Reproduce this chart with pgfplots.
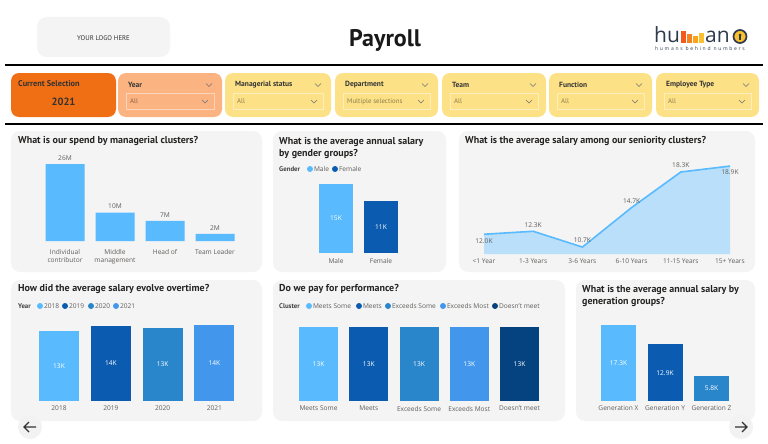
\documentclass[border=0pt]{standalone}
\usepackage{fontspec}
\setmainfont{Open Sans}
\newfontfamily\din{PT Sans}
\usepackage{pgfplots}
\pgfplotsset{compat=1.18}
\definecolor{panel}{HTML}{F4F4F4}
\definecolor{oDark}{HTML}{F06E14}
\definecolor{oLight}{HTML}{FBB382}
\definecolor{fyel}{HTML}{FDE187}
\definecolor{lblue}{HTML}{59BAFE}
\definecolor{bdark}{HTML}{0B5CB0}
\definecolor{bmid}{HTML}{2A86CB}
\definecolor{bbright}{HTML}{4297EC}
\definecolor{bnavy}{HTML}{054380}
\definecolor{areafill}{HTML}{B9DFFA}
\definecolor{ttl}{HTML}{252423}
\definecolor{lblgray}{HTML}{605E5C}
\definecolor{logodark}{HTML}{2F3B4C}
\definecolor{lg1}{HTML}{F05A1E}
\definecolor{lg2}{HTML}{F58220}
\definecolor{lg3}{HTML}{F9A41A}
\definecolor{lg4}{HTML}{FBC02D}
\newcommand{\lbl}{\fontsize{6.6}{7.8}\selectfont}
\newcommand{\ttlf}{\din\bfseries\fontsize{10}{11}\selectfont}
\newcommand{\fl}{\din\bfseries\fontsize{7.5}{8}\selectfont}
\newcommand{\fv}{\din\fontsize{6.8}{8}\selectfont}
\newcommand{\chev}[2]{\draw[black!55, line width=0.55pt] ({#1-3},{#2-1.5}) -- (#1,{#2+1.5}) -- ({#1+3},{#2-1.5});}
\newcommand{\filt}[5]{%
 \fill[#3, rounded corners=8pt] (#1,73) rectangle (#2,117);
 \node[anchor=west, inner sep=0, font=\fl, text=black!80] at ({#1+10},85) {#4};
 \chev{#2-13}{85}
 \draw[white!45!#3, line width=0.8pt] ({#1+8},93) rectangle ({#2-8},109);
 \node[anchor=west, inner sep=0, font=\fv, text=black!45!#3] at ({#1+12},101.5) {#5};
 \chev{#2-17}{101.5}
}
\pgfplotsset{
 base/.style={scale only axis, enlargelimits=false, clip=false,
   /pgf/number format/assume math mode=true,
   axis line style={draw=none}, ytick=\empty, xtick style={draw=none},
   major tick length=0pt,
   xticklabel style={font=\lbl, text=lblgray, align=center, yshift=-1.5pt},
   anchor=south west},
 bars/.style={base, ybar, ymin=0},
 mid/.style={visualization depends on=y \as \rawy,
   nodes near coords={\pgfmathprintnumber[fixed,precision=0]{\pgfplotspointmeta}K},
   every node near coord/.append style={font=\lbl, text=white, anchor=center,
     shift={(axis direction cs:0,-\rawy/2)}}},
}
\begin{document}
\begin{tikzpicture}
\path[use as bounding box, fill=white] (0,0) rectangle (768pt,-444pt);
\begin{scope}[x=1pt,y=-1pt]
% header
\fill[panel, rounded corners=10pt] (37,17) rectangle (170,57);
\node[font=\din\fontsize{6.8}{8}\selectfont, text=black!80] at (103.5,38) {YOUR LOGO HERE};
\node[font=\din\bfseries\fontsize{24}{28}\selectfont, text=black!90] at (385,40) {Payroll};
% logo
\node[anchor=base west, inner sep=0, font=\fontsize{21}{22}\selectfont, text=logodark] at (654,43) {hu};
\fill[lg1] (681,31) rectangle (686,43);
\fill[lg2] (687,34) rectangle (692,43);
\fill[lg3] (693,36) rectangle (698,43);
\fill[lg4] (699,33) rectangle (704,43);
\node[anchor=base west, inner sep=0, font=\fontsize{21}{22}\selectfont, text=logodark] at (705,43) {an};
\fill[lg4] (740,36.5) circle (6.5);
\draw[logodark, line width=1.7pt] (740,36.5) circle (6.5);
\fill[logodark] (740,35) circle (1.5);
\fill[logodark] (739.2,35.5) rectangle (740.8,40);
\node[anchor=base west, inner sep=0, font=\fontsize{5}{6}\selectfont\addfontfeature{LetterSpace=34}, text=logodark] at (655,51) {humans behind numbers};
\draw[black, line width=2.2pt] (5,65) -- (763,65);
\draw[black, line width=2.2pt] (5,124) -- (763,124);
% filters
\fill[oDark, rounded corners=8pt] (11,73) rectangle (116,117);
\node[anchor=west, inner sep=0, font=\din\bfseries\fontsize{8.3}{9}\selectfont, text=black!80] at (18,83.5) {Current Selection};
\node[font=\din\bfseries\fontsize{10.5}{12}\selectfont, text=black!80] at (63.5,102) {2021};
\filt{118}{222}{oLight}{Year}{All}
\filt{225}{331}{fyel}{Managerial status}{All}
\filt{335}{438}{fyel}{Department}{Multiple selections}
\filt{442}{546}{fyel}{Team}{All}
\filt{549}{652}{fyel}{Function}{All}
\filt{656}{759}{fyel}{Employee Type}{All}
% panels
\fill[panel, rounded corners=9pt] (11,131) rectangle (262,272);
\fill[panel, rounded corners=9pt] (273,131) rectangle (446,272);
\fill[panel, rounded corners=9pt] (459,131) rectangle (755,272);
\fill[panel, rounded corners=9pt] (11,280) rectangle (262,421);
\fill[panel, rounded corners=9pt] (273,280) rectangle (565,421);
\fill[panel, rounded corners=9pt] (576,280) rectangle (755,421);
% titles
\node[anchor=west, inner sep=0, font=\ttlf, text=ttl] at (18,141) {What is our spend by managerial clusters?};
\node[anchor=west, inner sep=0, font=\ttlf, text=ttl] at (279,142) {What is the average annual salary};
\node[anchor=west, inner sep=0, font=\ttlf, text=ttl] at (279,153.5) {by gender groups?};
\node[anchor=west, inner sep=0, font=\ttlf, text=ttl] at (465,141) {What is the average salary among our seniority clusters?};
\node[anchor=west, inner sep=0, font=\ttlf, text=ttl] at (18,289) {How did the average salary evolve overtime?};
\node[anchor=west, inner sep=0, font=\ttlf, text=ttl] at (279,289) {Do we pay for performance?};
\node[anchor=west, inner sep=0, font=\ttlf, text=ttl] at (582,290) {What is the average annual salary by};
\node[anchor=west, inner sep=0, font=\ttlf, text=ttl] at (582,301.5) {generation groups?};
% legends
\node[anchor=west, inner sep=0, font=\din\bfseries\fontsize{6.8}{8}\selectfont, text=black!75] at (279,169) {Gender};
\fill[lblue] (310,169) circle (3); \node[anchor=west, inner sep=0, font=\lbl, text=lblgray] at (313.8,169) {Male};
\fill[bdark] (335,169) circle (3); \node[anchor=west, inner sep=0, font=\lbl, text=lblgray] at (338.8,169) {Female};
\node[anchor=west, inner sep=0, font=\din\bfseries\fontsize{6.8}{8}\selectfont, text=black!75] at (18,306) {Year};
\fill[lblue] (40,306) circle (3); \node[anchor=west, inner sep=0, font=\lbl, text=lblgray] at (43.8,306) {2018};
\fill[bdark] (65,306) circle (3); \node[anchor=west, inner sep=0, font=\lbl, text=lblgray] at (68.8,306) {2019};
\fill[bmid] (91,306) circle (3); \node[anchor=west, inner sep=0, font=\lbl, text=lblgray] at (94.8,306) {2020};
\fill[bbright] (116,306) circle (3); \node[anchor=west, inner sep=0, font=\lbl, text=lblgray] at (119.8,306) {2021};
\node[anchor=west, inner sep=0, font=\din\bfseries\fontsize{6.8}{8}\selectfont, text=black!75] at (279,306) {Cluster};
\fill[lblue] (309,306) circle (3); \node[anchor=west, inner sep=0, font=\lbl, text=lblgray] at (312.8,306) {Meets Some};
\fill[bdark] (359,306) circle (3); \node[anchor=west, inner sep=0, font=\lbl, text=lblgray] at (362.8,306) {Meets};
\fill[bmid] (388,306) circle (3); \node[anchor=west, inner sep=0, font=\lbl, text=lblgray] at (391.8,306) {Exceeds Some};
\fill[bbright] (443,306) circle (3); \node[anchor=west, inner sep=0, font=\lbl, text=lblgray] at (446.8,306) {Exceeds Most};
\fill[bnavy] (495,306) circle (3); \node[anchor=west, inner sep=0, font=\lbl, text=lblgray] at (498.8,306) {Doesn't meet};
% nav arrows
\fill[black!5] (30,427) circle (12);
\draw[black!80, line width=1.2pt] (24,427) -- (36,427) (29,422) -- (24,427) -- (29,432);
\fill[black!5] (741,427) circle (12);
\draw[black!80, line width=1.2pt] (735,427) -- (747,427) (742,422) -- (747,427) -- (742,432);
\end{scope}

% Chart 1
\begin{axis}[bars, at={(40pt,-241pt)}, width=200pt, height=88.85pt,
  xmin=-0.5, xmax=3.5, ymax=30, bar width=39pt, xtick={0,1,2,3},
  xticklabels={{Individual\\contributor},{Middle\\management},{Head of},{Team Leader}},
  xticklabel style={yshift=-3.5pt},
  nodes near coords={\pgfmathprintnumber[fixed,precision=0]{\pgfplotspointmeta}M},
  every node near coord/.append style={font=\lbl, text=lblgray}]
\addplot[fill=lblue, draw=none] coordinates {(0,26) (1,9.6) (2,6.8) (3,2.4)};
\end{axis}

% Chart 2
\begin{axis}[bars, mid, at={(313.5pt,-253pt)}, width=90pt, height=92pt,
  xmin=-0.5, xmax=1.5, ymax=20, bar width=34pt, xtick={0,1},
  xticklabels={Male,Female}]
\addplot[fill=lblue, draw=none, bar shift=0pt] coordinates {(0,15.0)};
\addplot[fill=bdark, draw=none, bar shift=0pt] coordinates {(1,11.3)};
\end{axis}

% Chart 3
\begin{axis}[base, at={(484pt,-254pt)}, width=246pt, height=98.8pt,
  xmin=0, xmax=5, ymin=10, ymax=20, xtick={0,1,2,3,4,5},
  xticklabels={<1 Year,1-3 Years,3-6 Years,6-10 Years,11-15 Years,15+ Years}]
\addplot[fill=areafill, draw=none] coordinates {(0,10) (0,12.0) (1,12.3) (2,10.7) (3,14.7) (4,18.3) (5,18.9) (5,10)};
\addplot[lblue, line width=1.6pt, mark=none,
  nodes near coords={\pgfmathprintnumber[fixed,fixed zerofill,precision=1]{\pgfplotspointmeta}K},
  visualization depends on={value \thisrow{anc}\as\anc},
  every node near coord/.append style={anchor=\anc, font=\lbl, text=lblgray}]
  table[x=x, y=y] {
x y anc
0 12.0 north
1 12.3 south
2 10.7 south
3 14.7 south
4 18.3 south
5 18.9 north
};
\end{axis}

% Chart 4
\begin{axis}[bars, mid, at={(33.1pt,-401pt)}, width=207.2pt, height=109pt,
  xmin=-0.5, xmax=3.5, ymax=20, bar width=40pt, xtick={0,1,2,3},
  xticklabels={2018,2019,2020,2021}]
\addplot[fill=lblue, draw=none, bar shift=0pt] coordinates {(0,12.8)};
\addplot[fill=bdark, draw=none, bar shift=0pt] coordinates {(1,13.8)};
\addplot[fill=bmid, draw=none, bar shift=0pt] coordinates {(2,13.4)};
\addplot[fill=bbright, draw=none, bar shift=0pt] coordinates {(3,13.9)};
\end{axis}

% Chart 5
\begin{axis}[bars, mid, at={(293.4pt,-401pt)}, width=251.25pt, height=113.8pt,
  xmin=-0.5, xmax=4.5, ymax=20, bar width=39pt, xtick={0,1,2,3,4},
  xticklabels={Meets Some,Meets,Exceeds Some,Exceeds Most,Doesn't meet}]
\addplot[fill=lblue, draw=none, bar shift=0pt] coordinates {(0,13.0)};
\addplot[fill=bdark, draw=none, bar shift=0pt] coordinates {(1,13.0)};
\addplot[fill=bmid, draw=none, bar shift=0pt] coordinates {(2,13.0)};
\addplot[fill=bbright, draw=none, bar shift=0pt] coordinates {(3,13.0)};
\addplot[fill=bnavy, draw=none, bar shift=0pt] coordinates {(4,13.0)};
\end{axis}

% Chart 6
\begin{axis}[bars, mid, at={(595.25pt,-401pt)}, width=139.5pt, height=87.8pt,
  xmin=-0.5, xmax=2.5, ymax=20, bar width=35pt, xtick={0,1,2},
  xticklabels={Generation X,Generation Y,Generation Z},
  nodes near coords={\pgfmathprintnumber[fixed,fixed zerofill,precision=1]{\pgfplotspointmeta}K}]
\addplot[fill=lblue, draw=none, bar shift=0pt] coordinates {(0,17.3)};
\addplot[fill=bdark, draw=none, bar shift=0pt] coordinates {(1,12.9)};
\addplot[fill=bmid, draw=none, bar shift=0pt] coordinates {(2,5.8)};
\end{axis}
\end{tikzpicture}
\end{document}
